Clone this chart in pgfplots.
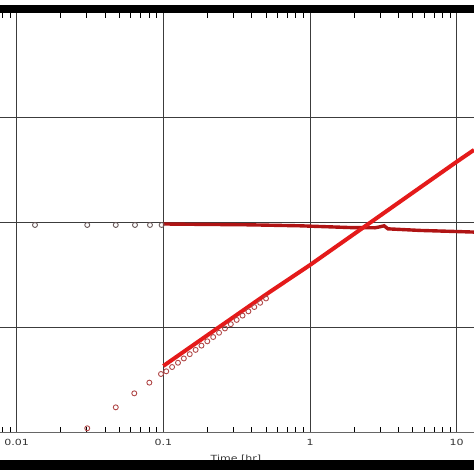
\documentclass[border=0pt]{standalone}
\usepackage{fontspec}
\usepackage{pgfplots}
\pgfplotsset{compat=1.18}
\newfontfamily\tickfont[FakeStretch=1.3]{DejaVu Sans}
\definecolor{gridc}{HTML}{3C3C3C}
\definecolor{flatred}{HTML}{B01414}
\definecolor{slopered}{HTML}{E41A1A}
\definecolor{circred}{HTML}{B04848}
\definecolor{circgray}{HTML}{6A5A5A}
\begin{document}
\begin{tikzpicture}
\begin{axis}[
  scale only axis, width=474bp, height=419bp,
  at={(0,0)}, anchor=south west,
  xmode=log, ymode=log,
  xmin=0.007703, xmax=13.12, ymin=0.1, ymax=1000,
  axis line style={draw=none},
  xtick={0.01,0.1,1,10},
  xticklabels={0.01,0.1,1,10},
  minor xtick={0.008,0.009,0.02,0.03,0.04,0.05,0.06,0.07,0.08,0.09,0.2,0.3,0.4,0.5,0.6,0.7,0.8,0.9,2,3,4,5,6,7,8,9},
  ytick={1,10,100}, yticklabels={}, yminorticks=false,
  major tick length=0pt, minor tick length=5bp,
  tick align=inside, xtick pos=both, ytick pos=left,
  minor tick style={black, line width=0.7bp},
  grid=major,
  major grid style={draw=gridc, line width=0.9bp},
  xticklabel style={font=\tickfont\fontsize{8.5}{10}\selectfont, text=black!80, yshift=-4bp},
  clip=true,
]
% flat series: early circles
\addplot[only marks, mark=o, mark size=2.5bp, mark options={draw=circgray, line width=0.9bp}] coordinates {
(0.01334,9.47) (0.0303,9.47) (0.0474,9.47) (0.0641,9.47) (0.0811,9.47) (0.0974,9.47)
};
% flat line
\addplot[flatred, line width=3.4bp] coordinates {
(0.0995,9.68) (0.178,9.6) (0.39,9.5) (0.855,9.3) (1.87,8.95) (2.77,8.9)
(3.0,9.1) (3.2,9.3) (3.4,8.7) (5.62,8.4) (10,8.2) (13.12,8.1)
};
% sloped line
\addplot[slopered, line width=4bp] coordinates {
(0.1,0.427) (0.2,0.84) (0.5,2.05) (1,3.93) (2,7.78) (5,19.2) (10,38.0) (13.12,49.3)
};
% derivative circles
\addplot[only marks, mark=o, mark size=2.5bp, mark options={draw=circred, line width=0.9bp}] coordinates {
(0.0303,0.1085) (0.0474,0.172) (0.0634,0.234) (0.0803,0.296) (0.0964,0.358)
(0.1047,0.3796) (0.1148,0.4172) (0.1259,0.4583) (0.1380,0.5036) (0.1514,0.5534)
(0.1660,0.6080) (0.1820,0.6679) (0.1995,0.7340) (0.2188,0.8065) (0.2399,0.8860)
(0.2630,0.9736) (0.2884,1.070) (0.3162,1.175) (0.3467,1.292) (0.3802,1.419)
(0.4169,1.560) (0.4571,1.713) (0.5012,1.883)
};
\draw[gray!80!black, line width=0.8bp] (rel axis cs:0,0) -- (rel axis cs:1,0);
\end{axis}
\node[font=\tickfont\fontsize{8.5}{10}\selectfont, text=black!80, anchor=base] at (236bp,-29bp) {Time [hr]};
\fill[black] (-1bp,419bp) rectangle (475bp,427bp);
\fill[black] (-1bp,-28bp) rectangle (475bp,-38bp);
\pgfresetboundingbox
\path[use as bounding box] (0,-42bp) rectangle (474bp,432bp);
\end{tikzpicture}
\end{document}
